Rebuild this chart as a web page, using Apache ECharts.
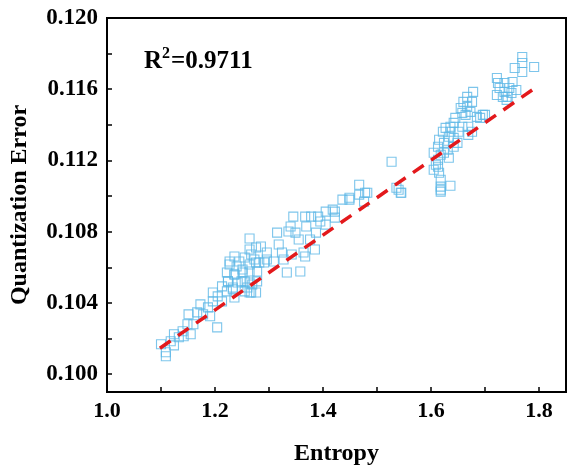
<!DOCTYPE html>
<html><head><meta charset="utf-8">
<script src="https://cdn.jsdelivr.net/npm/echarts@6/dist/echarts.min.js"></script>
<style>html,body{margin:0;padding:0;background:#fff}#c{width:574px;height:471px}</style>
</head><body><div id="c"></div>
<script>
var entropy = [
1.100,1.109,1.109,1.124,1.118,1.133,1.124,1.142,1.140,1.155,1.149,1.160,1.151,1.167,1.173,1.178,1.191,1.204,1.187,1.196,
1.196,1.205,1.213,1.222,1.213,1.224,1.233,1.236,1.222,1.236,1.242,1.251,1.255,1.260,1.264,1.276,1.269,1.278,1.264,1.276,
1.227,1.240,1.291,1.264,1.227,1.236,1.245,1.255,1.267,1.264,1.276,1.285,1.273,1.282,1.278,1.264,1.251,1.236,1.249,1.264,
1.233,1.224,1.255,1.267,1.296,1.296,1.309,1.318,1.324,1.327,1.342,1.364,1.367,1.385,1.333,1.358,1.315,1.336,1.340,1.345,
1.367,1.378,1.349,1.355,1.369,1.376,1.387,1.395,1.405,1.422,1.422,1.405,1.391,1.449,1.436,1.449,1.467,1.467,1.478,1.476,
1.540,1.545,1.418,1.527,1.536,1.544,1.482,
1.618,1.618,1.636,1.618,1.615,1.613,1.613,1.618,1.613,1.615,1.624,1.633,1.633,1.624,1.631,1.642,1.649,1.642,1.622,1.627,
1.636,1.642,1.645,1.658,1.655,1.664,1.673,1.667,1.660,1.667,1.678,1.676,1.685,1.669,1.676,1.669,1.691,1.700,1.651,1.658,
1.636,1.605,1.609,1.605,1.618,1.696,
1.722,1.724,1.736,1.727,1.722,1.733,1.742,1.749,1.745,1.751,1.758,1.736,1.755,1.769,1.769,1.769,1.791,1.740
];
var quantErr = [
0.10168,0.10101,0.10123,0.10162,0.10185,0.10207,0.10224,0.10213,0.10241,0.10224,0.10280,0.10280,0.10336,0.10347,0.10392,0.10336,0.10325,0.10263,0.10375,0.10409,
0.10459,0.10437,0.10409,0.10465,0.10493,0.10521,0.10476,0.10431,0.10571,0.10560,0.10515,0.10571,0.10521,0.10487,0.10459,0.10459,0.10504,0.10521,0.10616,0.10627,
0.10616,0.10605,0.10627,0.10762,0.10633,0.10661,0.10633,0.10655,0.10672,0.10700,0.10711,0.10717,0.10644,0.10627,0.10577,0.10577,0.10588,0.10560,0.10521,0.10515,
0.10487,0.10521,0.10465,0.10459,0.10683,0.10644,0.10633,0.10728,0.10683,0.10644,0.10672,0.10683,0.10661,0.10700,0.10571,0.10577,0.10795,0.10801,0.10829,0.10885,
0.10885,0.10885,0.10795,0.10756,0.10829,0.10756,0.10795,0.10857,0.10913,0.10913,0.10879,0.10840,0.10885,0.10980,0.10980,0.10991,0.11064,0.11008,0.11019,0.10969,
0.11036,0.11019,0.10924,0.11193,0.11047,0.11019,0.11019,
0.11053,0.11025,0.11058,0.11092,0.11131,0.11165,0.11204,0.11232,0.11277,0.11316,0.11299,0.11333,0.11215,0.11243,0.11260,0.11277,0.11299,0.11327,0.11361,0.11383,
0.11389,0.11411,0.11439,0.11467,0.11495,0.11456,0.11473,0.11501,0.11529,0.11557,0.11585,0.11529,0.11445,0.11389,0.11361,0.11344,0.11439,0.11456,0.11361,0.11389,
0.11361,0.11243,0.11176,0.11148,0.11036,0.11456,
0.11663,0.11635,0.11635,0.11607,0.11568,0.11557,0.11557,0.11579,0.11607,0.11641,0.11596,0.11585,0.11719,0.11697,0.11747,0.11781,0.11725,0.11540
];
var fitX = [1.098, 1.795];
var fitY = [0.10146, 0.11612];
var xLabelVals = [1.0, 1.2, 1.4, 1.6, 1.8];
var xTickVals = [1.0, 1.1, 1.2, 1.3, 1.4, 1.5, 1.6, 1.7, 1.8];
var yLabelVals = [0.100, 0.104, 0.108, 0.112, 0.116, 0.120];
var yTickVals = [0.100, 0.102, 0.104, 0.106, 0.108, 0.110, 0.112, 0.114, 0.116, 0.118, 0.120];
var r2Text = '0.9711';

var points = entropy.map(function (x, i) { return [x, quantErr[i]]; });
var fitLine = fitX.map(function (x, i) { return [x, fitY[i]]; });
var font = '"Liberation Serif","Times New Roman",serif';

var chart = echarts.init(document.getElementById('c'), null, {renderer: 'canvas'});
chart.setOption({
  animation: false,
  backgroundColor: '#fff',
  grid: {left: 100, right: 8, top: 18, bottom: 78, show: true, borderColor: '#000', borderWidth: 2, backgroundColor: 'transparent'},
  xAxis: {
    type: 'value', min: 1.0, max: 1.85,
    name: 'Entropy', nameLocation: 'middle', nameGap: 50,
    nameTextStyle: {fontFamily: font, fontWeight: 'bold', fontSize: 24, color: '#000'},
    axisLine: {show: true, lineStyle: {color: '#000', width: 2}},
    axisTick: {show: true, inside: true, length: 5, lineStyle: {color: '#000', width: 1.5}, customValues: xTickVals},
    axisLabel: {fontFamily: font, fontWeight: 'bold', fontSize: 22, color: '#000', margin: 8, customValues: xLabelVals,
      formatter: function (v) { return v.toFixed(1); }},
    splitLine: {show: false}
  },
  yAxis: {
    type: 'value', min: 0.099, max: 0.120,
    name: 'Quantization Error', nameLocation: 'middle', nameGap: 75,
    nameTextStyle: {fontFamily: font, fontWeight: 'bold', fontSize: 24, color: '#000'},
    axisLine: {show: true, lineStyle: {color: '#000', width: 2}},
    axisTick: {show: true, inside: true, length: 5, lineStyle: {color: '#000', width: 1.5}, customValues: yTickVals},
    axisLabel: {fontFamily: font, fontWeight: 'bold', fontSize: 23, color: '#000', margin: 9, customValues: yLabelVals,
      formatter: function (v) { return v.toFixed(3); }},
    splitLine: {show: false}
  },
  graphic: [{
    type: 'text', left: 144, top: 46, z: 10,
    style: {
      text: '{r|R}{s|2}{r|=' + r2Text + '}',
      rich: {
        r: {fontFamily: font, fontWeight: 'bold', fontSize: 25, fill: '#000', lineHeight: 28, verticalAlign: 'bottom'},
        s: {fontFamily: font, fontWeight: 'bold', fontSize: 16, fill: '#000', lineHeight: 28, verticalAlign: 'top', padding: [0, 1, 10, 0]}
      }
    }
  }],
  series: [{
    type: 'scatter', data: points, symbol: 'rect', symbolSize: 9,
    itemStyle: {color: 'rgba(0,0,0,0)', borderColor: '#5cb6e6', borderWidth: 1.1}, z: 2
  }, {
    type: 'line', data: fitLine, symbol: 'none', z: 3,
    lineStyle: {color: '#e3191c', width: 3.5, type: [13, 9]}
  }]
});
</script></body></html>
